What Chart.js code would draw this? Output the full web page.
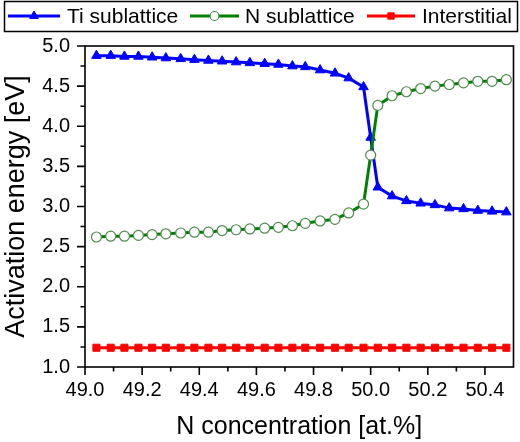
<!DOCTYPE html>
<html><head><meta charset="utf-8">
<script src="https://cdn.jsdelivr.net/npm/chart.js@4.4.1/dist/chart.umd.min.js"></script>
<style>html,body{margin:0;padding:0;background:#fff;} canvas{display:block;}</style>
</head><body>
<canvas id="c" width="520" height="442"></canvas>
<script>
const concentration = [49.04, 49.09, 49.138, 49.187, 49.235, 49.283, 49.335, 49.383, 49.432, 49.48,
  49.529, 49.577, 49.629, 49.677, 49.726, 49.771, 49.823, 49.875, 49.923, 49.975,
  50.0, 50.025, 50.075, 50.125, 50.175, 50.225, 50.275, 50.325, 50.375, 50.425, 50.475];
const tiSublattice = [4.88, 4.88, 4.87, 4.87, 4.86, 4.85, 4.84, 4.83, 4.82, 4.81,
  4.80, 4.79, 4.78, 4.77, 4.75, 4.74, 4.70, 4.66, 4.60, 4.49,
  3.86, 3.24, 3.13, 3.07, 3.04, 3.02, 2.98, 2.97, 2.95, 2.94, 2.93];
const nSublattice = [2.62, 2.63, 2.63, 2.64, 2.65, 2.66, 2.67, 2.68, 2.68, 2.70,
  2.71, 2.72, 2.73, 2.74, 2.76, 2.79, 2.82, 2.84, 2.92, 3.03,
  3.64, 4.26, 4.38, 4.43, 4.47, 4.50, 4.52, 4.54, 4.56, 4.56, 4.58];
// Interstitial has no point at exactly 50.0 at.%
const interstitial = [1.24, 1.24, 1.24, 1.24, 1.24, 1.24, 1.24, 1.24, 1.24, 1.24,
  1.24, 1.24, 1.24, 1.24, 1.24, 1.24, 1.24, 1.24, 1.24, 1.24,
  null, 1.24, 1.24, 1.24, 1.24, 1.24, 1.24, 1.24, 1.24, 1.24, 1.24];
const seriesNames = ['Ti sublattice', 'N sublattice', 'Interstitial'];
const xMajorTicks = [49.0, 49.2, 49.4, 49.6, 49.8, 50.0, 50.2, 50.4];
const xMinorTicks = [49.1, 49.3, 49.5, 49.7, 49.9, 50.1, 50.3];
const yMajorTicks = [1.0, 1.5, 2.0, 2.5, 3.0, 3.5, 4.0, 4.5, 5.0];
const yMinorTicks = [1.25, 1.75, 2.25, 2.75, 3.25, 3.75, 4.25, 4.75];

const FONT = 'Liberation Sans, Arial, sans-serif';
const toPts = ys => concentration.map((x, i) => ({x: x, y: ys[i]}));

const datasets = [
  {label: seriesNames[0], data: toPts(tiSublattice), order: 2,
   borderColor: '#0000ff', borderWidth: 3, pointStyle: 'triangle', pointRadius: 5.5,
   pointBackgroundColor: '#0000ff', pointBorderColor: '#0000ff', pointBorderWidth: 1},
  {label: seriesNames[1], data: toPts(nSublattice), order: 1,
   borderColor: '#008000', borderWidth: 3, pointStyle: 'circle', pointRadius: 5,
   pointBackgroundColor: '#ffffff', pointBorderColor: '#4f8a4f', pointBorderWidth: 1.2},
  {label: seriesNames[2], data: toPts(interstitial), order: 0, spanGaps: true,
   borderColor: '#ff0000', borderWidth: 3, pointStyle: 'rect', pointRadius: 5,
   pointBackgroundColor: '#ff0000', pointBorderColor: '#ff0000', pointBorderWidth: 1}
];

const frameTicks = {
  id: 'frameTicks',
  afterDraw(chart) {
    const {ctx, chartArea: a, scales} = chart;
    ctx.save();
    ctx.strokeStyle = '#000';
    ctx.lineWidth = 1.6;
    ctx.strokeRect(a.left, a.top, a.right - a.left, a.bottom - a.top);
    ctx.beginPath();
    xMajorTicks.forEach(v => { const p = scales.x.getPixelForValue(v); ctx.moveTo(p, a.bottom); ctx.lineTo(p, a.bottom + 8); });
    xMinorTicks.forEach(v => { const p = scales.x.getPixelForValue(v); ctx.moveTo(p, a.bottom); ctx.lineTo(p, a.bottom + 4.5); });
    yMajorTicks.forEach(v => { const p = scales.y.getPixelForValue(v); ctx.moveTo(a.left, p); ctx.lineTo(a.left - 8, p); });
    yMinorTicks.forEach(v => { const p = scales.y.getPixelForValue(v); ctx.moveTo(a.left, p); ctx.lineTo(a.left - 4.5, p); });
    ctx.stroke();
    ctx.restore();
  }
};

const boxLegend = {
  id: 'boxLegend',
  afterDraw(chart) {
    const ctx = chart.ctx;
    ctx.save();
    ctx.strokeStyle = '#000';
    ctx.lineWidth = 1.5;
    ctx.strokeRect(4.5, 1.5, 513, 30);
    const cy = 16;
    const items = [
      {x1: 8, x2: 60, tx: 67},
      {x1: 190, x2: 239, tx: 245},
      {x1: 367, x2: 415, tx: 422}
    ];
    chart.data.datasets.forEach((ds, i) => {
      const it = items[i];
      ctx.strokeStyle = ds.borderColor;
      ctx.lineWidth = ds.borderWidth;
      ctx.beginPath(); ctx.moveTo(it.x1, cy); ctx.lineTo(it.x2, cy); ctx.stroke();
      ctx.fillStyle = ds.pointBackgroundColor;
      ctx.strokeStyle = ds.pointBorderColor;
      ctx.lineWidth = ds.pointBorderWidth;
      Chart.helpers.drawPoint(ctx, {pointStyle: ds.pointStyle, radius: ds.pointRadius - 0.5, rotation: 0, borderWidth: ds.pointBorderWidth}, (it.x1 + it.x2) / 2, cy);
      ctx.fillStyle = '#000';
      ctx.font = '21px ' + FONT;
      ctx.textBaseline = 'middle';
      ctx.textAlign = 'left';
      ctx.fillText(ds.label, it.tx, cy + 1);
    });
    ctx.restore();
  }
};

new Chart(document.getElementById('c'), {
  type: 'line',
  data: {datasets: datasets},
  options: {
    responsive: false, animation: false, devicePixelRatio: 1,
    layout: {padding: {top: 46, right: 2, left: 0, bottom: 0}},
    elements: {line: {tension: 0}},
    plugins: {legend: {display: false}, tooltip: {enabled: false}},
    scales: {
      x: {
        type: 'linear', min: 49.0, max: 50.5,
        afterBuildTicks: s => { s.ticks = xMajorTicks.map(v => ({value: v})); },
        afterFit: s => { s.height = 75; },
        grid: {display: false, drawTicks: true, tickLength: 8},
        border: {display: false},
        ticks: {padding: 3, color: '#000', font: {family: FONT, size: 20}, maxRotation: 0, autoSkip: false,
                callback: v => Number(v).toFixed(1)},
        title: {display: true, text: 'N concentration [at.%]', color: '#000', font: {family: FONT, size: 25}, padding: 0}
      },
      y: {
        type: 'linear', min: 1.0, max: 5.0,
        afterBuildTicks: s => { s.ticks = yMajorTicks.map(v => ({value: v})); },
        afterFit: s => { s.width = 85; },
        grid: {display: false, drawTicks: true, tickLength: 8},
        border: {display: false},
        ticks: {padding: 7, color: '#000', font: {family: FONT, size: 20}, autoSkip: false,
                callback: v => Number(v).toFixed(1)},
        title: {display: true, text: 'Activation energy [eV]', color: '#000', font: {family: FONT, size: 27}, padding: 0}
      }
    }
  },
  plugins: [frameTicks, boxLegend]
});
</script>
</body></html>
